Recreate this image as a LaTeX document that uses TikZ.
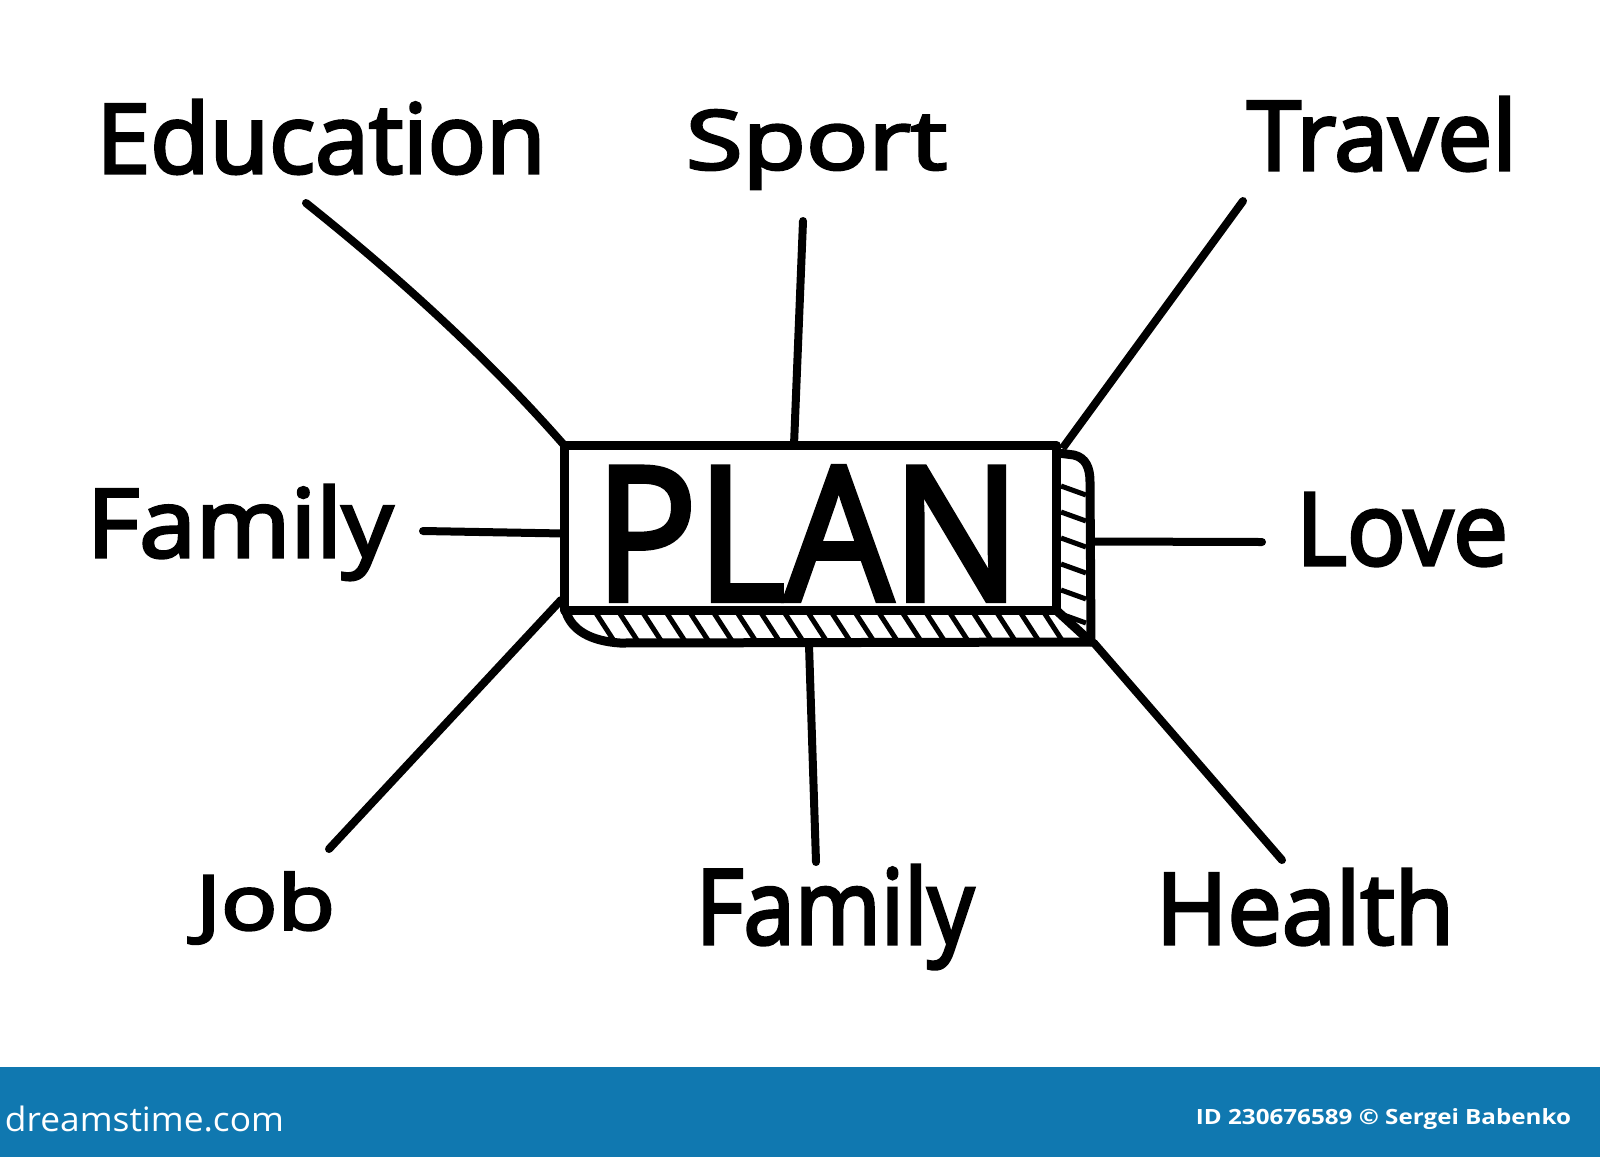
\documentclass[tikz,border=0pt]{standalone}
\usepackage{fontspec}
\setmainfont{Open Sans}
\newfontfamily\handfont[FakeBold=3.2]{Open Sans}
\usepackage{graphicx}
\usetikzlibrary{calc}
\definecolor{barblue}{RGB}{16,120,176}
\newcommand\wordbox[3]{\resizebox*{#1pt}{#2pt}{\handfont #3}}
\begin{document}
\begin{tikzpicture}[x=1pt,y=-1pt,
  word/.style={inner sep=0pt, outer sep=0pt, text=black},
  link/.style={line width=8pt, line cap=round},
  boxline/.style={line width=9pt, line join=round, line cap=round},
  hatch/.style={line width=5pt}]
\useasboundingbox (0,0) rectangle (1600,1157);
\fill[white] (0,0) rectangle (1600,1157);
\fill[barblue] (0,1067) rectangle (1600,1157);

% words
\node[word] (education) at (321,137) {\wordbox{449}{74}{Education}};
\node[word] (sport) at (816.5,149.5) {\wordbox{261}{79}{Sport}};
\node[word] (travel) at (1382,134) {\wordbox{270}{74}{Travel}};
\node[word] (familyL) at (240,532.5) {\wordbox{306}{95}{Family}};
\node[word] (love) at (1402,529.5) {\wordbox{212}{73}{Love}};
\node[word] (job) at (265.5,908) {\wordbox{139}{72}{Job}};
\node[word] (familyB) at (835,917) {\wordbox{278}{104}{Family}};
\node[word] (health) at (1305,907) {\wordbox{298}{76}{Health}};

% box frame (drawn later)
\node[inner sep=0pt, outer sep=0pt, minimum width=492pt, minimum height=165pt] (plan) at (810,527.5) {};

% connector free ends
\coordinate (eduEnd) at (306,203);
\coordinate (sportEnd) at (803,221);
\coordinate (travelEnd) at (1243,201);
\coordinate (familyLEnd) at (423,531);
\coordinate (loveEnd) at (1262,542);
\coordinate (jobEnd) at (329,849);
\coordinate (familyBEnd) at (816,862);
\coordinate (healthEnd) at (1282,860);

% connectors
\draw[link] (eduEnd) .. controls (395,274) and (485,355) .. (plan.north west);
\draw[link] (sportEnd) -- ($(plan.north)+(-16,0)$);
\draw[link] (travelEnd) -- ($(plan.north east)+(6,4)$);
\draw[link] (familyLEnd) -- ($(plan.west)+(0,6)$);
\draw[link] (loveEnd) -- ($(plan.east)+(35,14)$);
\draw[link] (jobEnd) -- ($(plan.south west)+(-3,-10)$);
\draw[link] (familyBEnd) -- ($(plan.south)+(-1,35)$);
\draw[link] (healthEnd) -- ($(plan.south east)+(38,33)$);

% box 3D faces
\fill[white] (plan.north east) -- (1074,455) .. controls (1086,458) and (1090,468) .. (1090,482)
  -- (1091,642) -- (620,643) .. controls (590,641) and (572,630) .. (566,612) -- cycle;
\begin{scope}
\clip (plan.south west) -- (plan.south east) -- (1091,642) -- (620,643) .. controls (590,641) and (572,630) .. (566,612) -- cycle;
\foreach \i in {0,...,19} {
  \draw[hatch] ({594+\i*23.6},610) -- ({616+\i*23.6},644);
}
\end{scope}
\foreach \yy in {486,512,538,564,590,614} {
  \draw[hatch] (1061,\yy) -- (1086,{\yy+9});
}
\draw[boxline] ($(plan.north east)+(2,8)$) -- (1074,455) .. controls (1086,458) and (1090,468) .. (1090,482)
  -- (1091,642) -- (620,643) .. controls (590,641) and (572,630) .. (566,612);
\draw[boxline] (plan.south east) -- (1091,642);
\node[draw, boxline, fill=white, inner sep=0pt, minimum width=492pt, minimum height=165pt] (planbox) at (plan.center) {};
\node[word] (plantext) at (807.5,533.5) {\wordbox{425}{133}{PLAN}};

% footer
\node[inner sep=0pt, text=white] (dreamstime) at (144.5,1119) {\resizebox*{279pt}{26pt}{dreamstime.com}};
\node[inner sep=0pt, text=white] (credit) at (1383.5,1119) {\resizebox*{375pt}{21pt}{\bfseries ID 230676589 © Sergei Babenko}};
\end{tikzpicture}
\end{document}
